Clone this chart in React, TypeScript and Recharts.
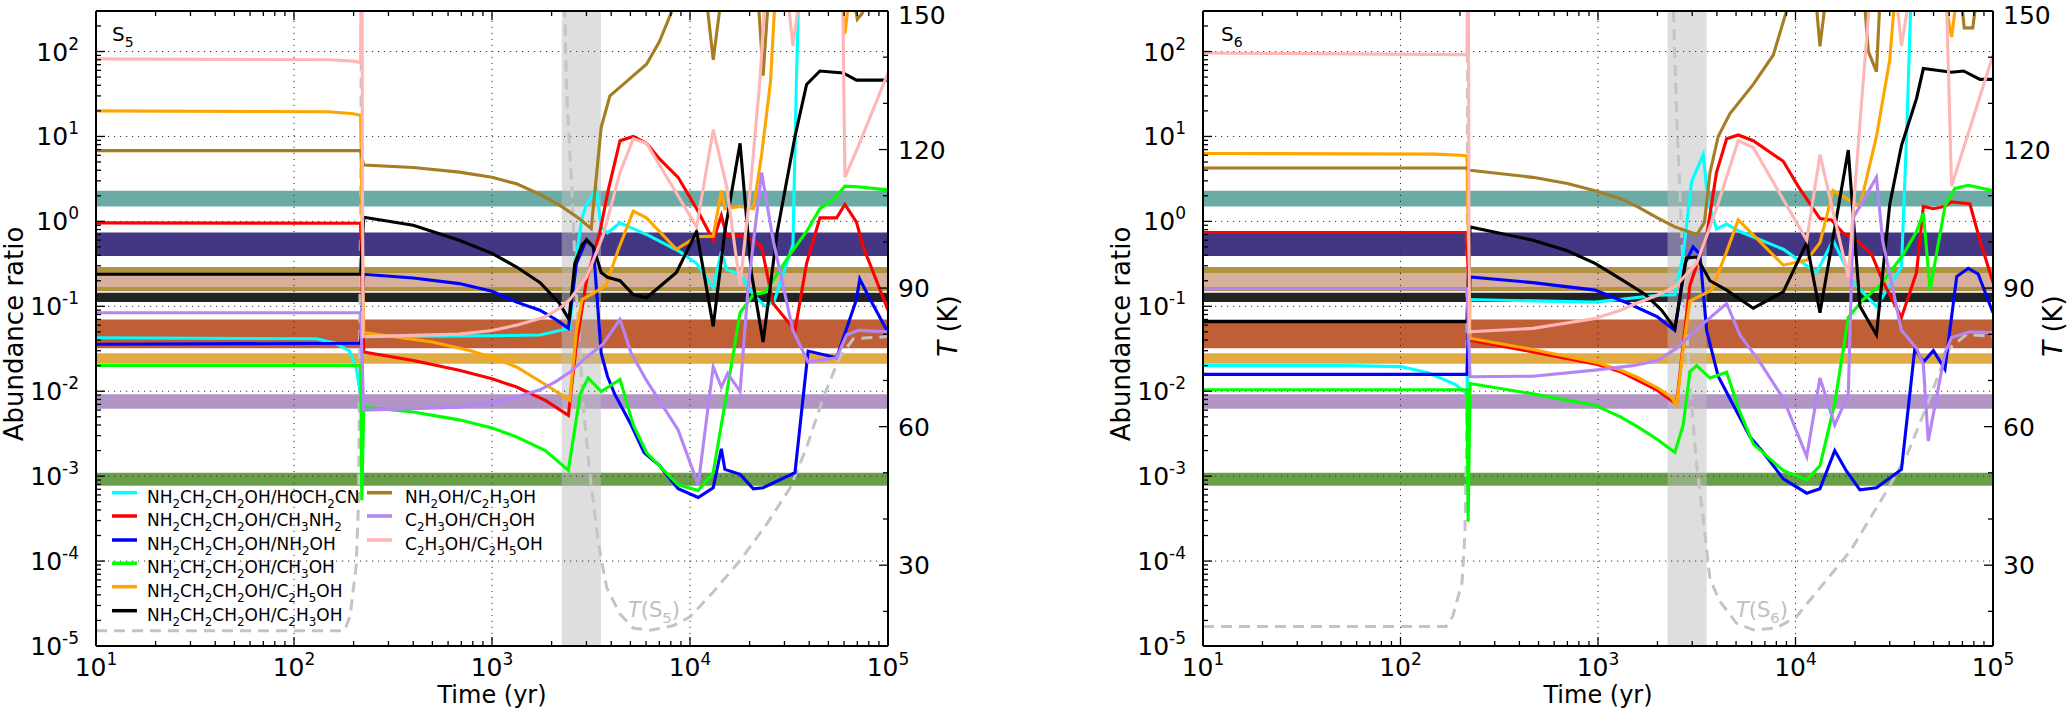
import React from "react";
import { LineChart, Line, XAxis, YAxis, ReferenceArea, ReferenceLine } from "recharts";

type Pt = [number, number];

const FONT = "DejaVu Sans";

// tick values
const tMajor = [30, 60, 90, 120, 150];
const tMinor = [20, 40, 50, 70, 80, 100, 110, 130, 140];
const xGrid = [100, 1000, 10000];
const yGrid = [1e-4, 1e-3, 1e-2, 1e-1, 1, 10, 100];

// observed ranges (horizontal bands)
const bandLo = [1.5, 0.39, 0.15, 0.169, 0.112, 0.032, 0.021, 0.0062, 0.00077];
const bandHi = [2.3, 0.74, 0.29, 0.247, 0.144, 0.07, 0.028, 0.0092, 0.0011];
const bandColor = ["#6aaba5", "#433683", "#b0923f", "#d6b09b", "#232323", "#c05e36", "#e1aa43", "#b095c5", "#6a9f4a"];

// grey heating window (yr)
const warmWindow = [2250, 3550];

const seriesKeys = ["cyan", "red", "blue", "green", "orange", "black", "olive", "lavender", "pink"];
const seriesColor = ["#00ffff", "#ff0000", "#0000ff", "#00ff00", "#ffa500", "#000000", "#a57d23", "#b585f5", "#ffb6b6"];
const seriesLabel = [
  "NH2CH2CH2OH/HOCH2CN",
  "NH2CH2CH2OH/CH3NH2",
  "NH2CH2CH2OH/NH2OH",
  "NH2CH2CH2OH/CH3OH",
  "NH2CH2CH2OH/C2H5OH",
  "NH2CH2CH2OH/C2H3OH",
  "NH2OH/C2H3OH",
  "C2H3OH/CH3OH",
  "C2H3OH/C2H5OH",
];

// ---- S5 ----
const s5Cyan: Pt[] = [[10, 0.0426], [130, 0.0415], [160, 0.037], [190, 0.03], [205, 0.02], [217, 0.0093], [225, 0.044], [1000, 0.045], [1746, 0.046], [2470, 0.055], [2670, 0.41], [2850, 1.1], [3000, 1.58], [3360, 2.4], [3560, 0.86], [3830, 0.73], [4430, 0.96], [6200, 0.68], [8880, 0.44], [10800, 0.32], [13100, 0.166], [14400, 0.44], [15300, 0.27], [17900, 0.24], [20900, 0.137], [24000, 0.1], [26600, 0.115], [33100, 0.53], [34500, 49], [36000, 2000], [100000, 2000]];
const s5Red: Pt[] = [[10, 0.96], [217, 0.95], [225, 0.029], [400, 0.023], [683, 0.0177], [1000, 0.014], [1330, 0.0112], [1860, 0.0078], [2430, 0.0052], [2670, 0.036], [3000, 0.2], [3510, 0.76], [3860, 2.3], [4430, 8.9], [5170, 10], [6030, 8.3], [7040, 5.4], [8710, 3.3], [10800, 1.41], [13100, 0.6], [14400, 1.17], [15300, 0.68], [17900, 0.68], [20900, 0.6], [23000, 0.5], [26300, 0.108], [33900, 0.052], [38800, 0.32], [45300, 1.1], [55000, 1.1], [60600, 1.58], [69300, 0.98], [75000, 0.5], [100000, 0.09]];
const s5Blue: Pt[] = [[10, 0.0357], [217, 0.0367], [225, 0.238], [400, 0.215], [683, 0.185], [1000, 0.15], [1330, 0.112], [1746, 0.09], [2100, 0.07], [2430, 0.055], [2670, 0.32], [3000, 0.61], [3250, 0.5], [3560, 0.028], [3830, 0.015], [4160, 0.0093], [5050, 0.004], [5860, 0.0019], [7040, 0.00132], [8710, 0.00071], [11000, 0.00056], [13100, 0.00073], [14400, 0.0021], [15000, 0.0012], [17900, 0.00105], [20900, 0.00071], [23400, 0.00073], [33900, 0.0011], [39500, 0.0297], [55000, 0.0248], [69300, 0.12], [72000, 0.21], [79000, 0.137], [100000, 0.049]];
const s5Green: Pt[] = [[10, 0.0201], [217, 0.0201], [220, 0.00052], [225, 0.0065], [400, 0.0057], [683, 0.0046], [1000, 0.0037], [1330, 0.0029], [1860, 0.002], [2430, 0.00117], [2790, 0.0093], [3060, 0.0143], [3560, 0.0099], [4430, 0.0138], [5170, 0.004], [6030, 0.0019], [8710, 0.00079], [11000, 0.00068], [13100, 0.0011], [15300, 0.0093], [17900, 0.084], [20900, 0.137], [24000, 0.146], [32000, 0.41], [38800, 0.76], [45300, 1.41], [52800, 1.8], [60600, 2.6], [71000, 2.55], [100000, 2.35]];
const s5Orange: Pt[] = [[10, 20], [150, 19.5], [200, 18.5], [217, 17.7], [225, 0.049], [500, 0.038], [780, 0.03], [1000, 0.025], [1330, 0.0193], [1860, 0.012], [2470, 0.0078], [2670, 0.052], [2850, 0.12], [3300, 0.146], [3760, 0.176], [4350, 0.47], [5170, 1.32], [6030, 1.1], [8540, 0.47], [10800, 0.66], [13100, 0.67], [14400, 2.3], [15000, 1.41], [17900, 1.5], [20900, 1.41], [23000, 6.1], [25500, 44], [27000, 500], [58000, 500], [60600, 160], [64000, 500], [100000, 500]];
const s5Black: Pt[] = [[10, 0.238], [217, 0.238], [225, 1.12], [400, 0.9], [683, 0.6], [1000, 0.42], [1330, 0.29], [1750, 0.19], [2180, 0.11], [2450, 0.07], [2620, 0.32], [2850, 0.53], [3000, 0.6], [3250, 0.5], [3560, 0.25], [3830, 0.22], [4430, 0.2], [5170, 0.137], [6030, 0.126], [8540, 0.25], [10800, 0.76], [13100, 0.058], [15000, 0.76], [17900, 8.3], [20400, 0.25], [23400, 0.038], [27600, 0.76], [33900, 10], [38800, 41], [45300, 59], [59400, 56], [69300, 46], [100000, 46]];
const s5Olive: Pt[] = [[10, 6.8], [217, 6.8], [225, 4.6], [400, 4.3], [684, 3.8], [1000, 3.3], [1330, 2.77], [1746, 2.08], [2275, 1.47], [2800, 1.05], [3170, 0.82], [3560, 12.8], [3940, 30], [4600, 41], [6030, 71], [7000, 130], [8200, 320], [9000, 600], [12000, 500], [13100, 80], [14500, 500], [22000, 500], [23400, 52], [25000, 500], [66000, 500], [70000, 240], [74000, 280], [78000, 500], [100000, 500]];
const s5Lavender: Pt[] = [[10, 0.084], [217, 0.084], [225, 0.006], [683, 0.0065], [1000, 0.0074], [1330, 0.0085], [1746, 0.0104], [2100, 0.013], [2470, 0.0167], [3000, 0.025], [3640, 0.036], [4430, 0.07], [5050, 0.028], [6030, 0.0134], [8710, 0.0035], [11000, 0.00079], [13100, 0.0194], [14400, 0.0112], [15500, 0.0162], [17900, 0.0099], [19700, 0.176], [23000, 3.75], [26300, 0.6], [33100, 0.052], [39500, 0.022], [55000, 0.0248], [61800, 0.046], [71000, 0.052], [100000, 0.05]];
const s5Pink: Pt[] = [[10, 82], [150, 80], [200, 77], [217, 74], [220, 5000], [223, 0.044], [683, 0.047], [1000, 0.052], [1330, 0.06], [1860, 0.075], [2200, 0.095], [2470, 0.12], [3000, 0.22], [3640, 0.68], [4430, 3.75], [5170, 9.4], [6030, 8.3], [10800, 0.86], [13100, 12], [15300, 2.6], [17900, 0.176], [20000, 2.0], [22600, 49], [24000, 500], [31000, 500], [33100, 116], [36000, 500], [59000, 500], [60600, 3.3], [71000, 7.8], [100000, 56]];
const s5Temp: Pt[] = [[10, 15.8], [180, 15.8], [192, 19], [206, 29.8], [212, 44], [218, 120], [222, 300], [2200, 300], [2330, 150], [2380, 132.8], [2520, 113], [2670, 88.8], [2890, 64.4], [3120, 49.7], [3440, 35], [3790, 25.2], [4430, 19.4], [5160, 16.4], [6300, 15.9], [8220, 16.9], [10000, 18.8], [13100, 24.2], [17900, 31], [24400, 38.9], [32000, 46.7], [38800, 55.5], [47100, 66.3], [57100, 75.1], [66800, 79], [100000, 79.5]];

// ---- S6 ----
const s6Cyan: Pt[] = [[10, 0.02], [54, 0.02], [100, 0.0195], [138, 0.0165], [190, 0.012], [217, 0.0093], [225, 0.12], [966, 0.112], [2000, 0.135], [2450, 0.137], [2700, 0.41], [2980, 2.94], [3410, 6.1], [3600, 1.8], [3980, 0.81], [4480, 0.93], [5230, 0.76], [8670, 0.47], [12800, 0.25], [15500, 0.6], [19600, 0.19], [25700, 0.1], [34400, 0.29], [36500, 10], [38500, 500], [100000, 500]];
const s6Red: Pt[] = [[10, 0.74], [217, 0.74], [225, 0.04], [468, 0.029], [966, 0.021], [1300, 0.017], [1590, 0.0134], [2000, 0.0102], [2350, 0.0078], [2500, 0.0072], [2700, 0.036], [2920, 0.176], [3550, 0.68], [3980, 3.75], [4480, 9.4], [5130, 10.4], [6110, 8.9], [8670, 5.1], [10300, 2.6], [13300, 1.08], [15200, 1.04], [17500, 0.72], [20400, 0.6], [24300, 0.41], [27600, 0.2], [34400, 0.074], [41000, 0.25], [44400, 1.5], [49900, 1.41], [57100, 1.5], [61700, 1.7], [76400, 1.6], [85900, 0.6], [100000, 0.19]];
const s6Blue: Pt[] = [[10, 0.0158], [217, 0.0158], [225, 0.221], [468, 0.19], [966, 0.155], [1400, 0.11], [2000, 0.075], [2450, 0.052], [2760, 0.32], [3030, 0.5], [3280, 0.41], [3550, 0.052], [3690, 0.036], [4060, 0.015], [4650, 0.0082], [5890, 0.0029], [6870, 0.0019], [8670, 0.00093], [11400, 0.00063], [13300, 0.00071], [15800, 0.002], [18100, 0.00115], [21200, 0.00069], [25700, 0.00073], [34400, 0.0012], [40200, 0.032], [44400, 0.022], [49900, 0.03], [57100, 0.0182], [65500, 0.224], [75000, 0.28], [84100, 0.24], [100000, 0.084]];
const s6Green: Pt[] = [[10, 0.0104], [217, 0.0104], [220, 0.00029], [225, 0.0123], [468, 0.0093], [966, 0.0068], [1300, 0.005], [1590, 0.0038], [2000, 0.0027], [2450, 0.0019], [2700, 0.004], [2920, 0.017], [3160, 0.02], [3690, 0.0143], [4480, 0.0167], [5230, 0.0057], [6110, 0.0024], [8670, 0.00116], [11400, 0.00091], [13300, 0.00132], [15800, 0.0072], [18500, 0.074], [22000, 0.12], [26800, 0.176], [35200, 0.41], [41000, 0.76], [44400, 1.25], [48000, 0.155], [57100, 1.5], [64100, 2.44], [75000, 2.66], [100000, 2.3]];
const s6Orange: Pt[] = [[10, 6.3], [150, 6.2], [200, 6.0], [217, 5.9], [225, 0.042], [468, 0.031], [966, 0.022], [1300, 0.0178], [1590, 0.0145], [2000, 0.011], [2350, 0.0085], [2500, 0.0068], [2700, 0.032], [2920, 0.115], [3760, 0.155], [4480, 0.44], [5130, 1.04], [8670, 0.305], [11400, 0.35], [13300, 0.56], [15500, 2.3], [21200, 1.5], [25700, 10], [30000, 80], [32000, 500], [56000, 500], [61700, 148], [66000, 500], [100000, 500]];
const s6Black: Pt[] = [[10, 0.066], [217, 0.066], [225, 0.86], [468, 0.6], [700, 0.45], [966, 0.32], [1300, 0.21], [1720, 0.14], [2100, 0.09], [2450, 0.055], [2800, 0.37], [3160, 0.38], [3690, 0.2], [4480, 0.155], [6110, 0.095], [8670, 0.148], [11400, 0.56], [13300, 0.084], [18500, 6.9], [21200, 0.1], [25700, 0.046], [30000, 1.58], [34400, 7.8], [41000, 28], [44400, 63], [61700, 57], [71000, 59], [85900, 47], [100000, 47]];
const s6Olive: Pt[] = [[10, 4.25], [217, 4.25], [225, 4.0], [468, 3.3], [700, 2.8], [966, 2.3], [1300, 1.85], [1590, 1.48], [2000, 1.1], [2450, 0.86], [3170, 0.7], [3460, 0.98], [3690, 3.75], [4060, 10], [4650, 18.5], [6110, 41], [7720, 91], [9000, 300], [9800, 600], [12500, 600], [13300, 115], [14500, 600], [22000, 600], [23400, 100], [25700, 58], [27000, 600], [68000, 600], [71500, 190], [79000, 190], [84000, 600], [100000, 600]];
const s6Lavender: Pt[] = [[10, 0.161], [217, 0.161], [225, 0.0148], [468, 0.015], [966, 0.0177], [1500, 0.02], [2000, 0.023], [2500, 0.032], [3280, 0.058], [4480, 0.108], [5230, 0.046], [6600, 0.022], [8670, 0.0082], [11400, 0.0017], [13300, 0.0143], [15800, 0.004], [18500, 0.0093], [19600, 1.1], [25700, 3.3], [27600, 0.6], [34400, 0.052], [41000, 0.032], [44400, 0.0206], [47000, 0.0026], [57100, 0.028], [61700, 0.043], [76400, 0.05], [100000, 0.049]];
const s6Pink: Pt[] = [[10, 96], [217, 92], [220, 5000], [223, 0.05], [468, 0.055], [966, 0.072], [1300, 0.09], [1590, 0.11], [2000, 0.135], [2450, 0.17], [3160, 0.32], [3980, 1.41], [5130, 8.9], [6110, 7.4], [11400, 0.6], [13300, 6.1], [18500, 0.22], [21200, 14.4], [23500, 300], [25700, 600], [32000, 600], [34400, 116], [38000, 500], [58000, 500], [61700, 2.6], [100000, 91]];
const s6Temp: Pt[] = [[10, 16.7], [170, 16.7], [184, 19], [205, 26.3], [212, 37], [217, 62], [222, 300], [2300, 300], [2410, 150], [2500, 128], [2700, 93.7], [2920, 69], [3160, 51.6], [3410, 40], [3690, 27], [4120, 22.3], [5030, 17.4], [6110, 16], [8010, 16.4], [10100, 18.8], [12800, 24.2], [18900, 33], [27800, 44.8], [36500, 53.6], [46100, 64.4], [53800, 72], [60500, 77], [73500, 80], [100000, 79.5]];

const s5Series = [s5Cyan, s5Red, s5Blue, s5Green, s5Orange, s5Black, s5Olive, s5Lavender, s5Pink];
const s6Series = [s6Cyan, s6Red, s6Blue, s6Green, s6Orange, s6Black, s6Olive, s6Lavender, s6Pink];

const toPts = (a: Pt[]) => a.map(([t, v]) => ({ t, v }));

// minor ticks for the log axes
const xTicks: number[] = [];
for (let k = 1; k <= 4; k++) for (let m = 1; m <= 9; m++) xTicks.push(m * Math.pow(10, k));
xTicks.push(100000);
const yTicks: number[] = [];
for (let k = -5; k <= 2; k++) for (let m = 1; m <= 9; m++) {
  const v = m * Math.pow(10, k);
  if (v <= 300) yTicks.push(v);
}
const tTicks = [...tMajor, ...tMinor].sort((a, b) => a - b);

const isDecade = (v: number) => Math.abs(Math.log10(v) - Math.round(Math.log10(v))) < 1e-6;

// chemistry-style subscripts
function Formula({ s, size }: { s: string; size: number }) {
  const parts = s.match(/\d+|[^\d]+/g) || [];
  const off = size * 0.3;
  let down = false;
  return (
    <>
      {parts.map((p, i) => {
        const num = /^\d+$/.test(p);
        let dy = 0;
        if (num && !down) { dy = off; down = true; }
        else if (!num && down) { dy = -off; down = false; }
        return (
          <tspan key={i} dy={dy} fontSize={num ? size * 0.7 : size}>{p}</tspan>
        );
      })}
    </>
  );
}

const XTickB = (p: any) => {
  const { x, y, payload } = p;
  const major = isDecade(payload.value);
  return (
    <g>
      <line x1={x} x2={x} y1={y} y2={y - (major ? 9 : 5)} stroke="#000" strokeWidth={1.3} />
      {major && (
        <text x={x} y={y + 30} textAnchor="middle" fontSize={25} fontFamily={FONT} fill="#000">
          10<tspan fontSize={17} dy={-11}>{Math.round(Math.log10(payload.value))}</tspan>
        </text>
      )}
    </g>
  );
};

const XTickT = (p: any) => {
  const { x, y, payload } = p;
  const major = isDecade(payload.value);
  return <line x1={x} x2={x} y1={y} y2={y + (major ? 9 : 5)} stroke="#000" strokeWidth={1.3} />;
};

const YTickL = (p: any) => {
  const { x, y, payload } = p;
  const major = isDecade(payload.value);
  return (
    <g>
      <line x1={x} x2={x + (major ? 9 : 5)} y1={y} y2={y} stroke="#000" strokeWidth={1.3} />
      {major && (
        <text x={x - 17} y={y + 9} textAnchor="end" fontSize={25} fontFamily={FONT} fill="#000">
          10<tspan fontSize={17} dy={-11}>{Math.round(Math.log10(payload.value))}</tspan>
        </text>
      )}
    </g>
  );
};

const YTickR = (p: any) => {
  const { x, y, payload } = p;
  const major = tMajor.includes(payload.value);
  return (
    <g>
      <line x1={x} x2={x - (major ? 9 : 5)} y1={y} y2={y} stroke="#000" strokeWidth={1.3} />
      {major && (
        <text x={x + 10} y={Math.max(y + 9, 24)} textAnchor="start" fontSize={25} fontFamily={FONT} fill="#000">
          {payload.value}
        </text>
      )}
    </g>
  );
};

const axisStroke = { stroke: "#000", strokeWidth: 2 };

function Panel({ left, width, leftW, rightW, series, temp }: {
  left: number; width: number; leftW: number; rightW: number; series: Pt[][]; temp: Pt[];
}) {
  return (
    <div style={{ position: "absolute", left, top: 0 }}>
      <LineChart width={width} height={709} margin={{ top: 10, right: 0, bottom: 0, left: 0 }}>
        <XAxis xAxisId="b" dataKey="t" type="number" scale="log" domain={[10, 100000]} allowDataOverflow
          ticks={xTicks} interval={0} tick={<XTickB />} tickLine={false} tickSize={0} tickMargin={0}
          height={63} axisLine={axisStroke} />
        <XAxis xAxisId="t" orientation="top" dataKey="t" type="number" scale="log" domain={[10, 100000]} allowDataOverflow
          ticks={xTicks} interval={0} tick={<XTickT />} tickLine={false} tickSize={0} tickMargin={0}
          height={1} axisLine={axisStroke} />
        <YAxis yAxisId="ab" type="number" scale="log" domain={[1e-5, 300]} allowDataOverflow
          ticks={yTicks} interval={0} tick={<YTickL />} tickLine={false} tickSize={0} tickMargin={0}
          width={leftW} axisLine={axisStroke} />
        <YAxis yAxisId="T" orientation="right" type="number" domain={[12.5, 150]} allowDataOverflow
          ticks={tTicks} interval={0} tick={<YTickR />} tickLine={false} tickSize={0} tickMargin={0}
          width={rightW} axisLine={axisStroke} />

        {bandLo.map((lo, i) => (
          <ReferenceArea key={"b" + i} xAxisId="b" yAxisId="ab" y1={lo} y2={bandHi[i]}
            fill={bandColor[i]} fillOpacity={1} stroke="none" />
        ))}
        <ReferenceArea xAxisId="b" yAxisId="ab" x1={warmWindow[0]} x2={warmWindow[1]}
          fill="#bdbdbd" fillOpacity={0.5} stroke="none" />
        {xGrid.map((g) => (
          <ReferenceLine key={"x" + g} xAxisId="b" yAxisId="ab" x={g} stroke="#333" strokeWidth={1} strokeDasharray="1.2 4.8" />
        ))}
        {yGrid.map((g) => (
          <ReferenceLine key={"y" + g} xAxisId="b" yAxisId="ab" y={g} stroke="#333" strokeWidth={1} strokeDasharray="1.2 4.8" />
        ))}

        <Line xAxisId="b" yAxisId="T" data={toPts(temp)} dataKey="v" type="linear" dot={false}
          stroke="#c4c4c4" strokeWidth={3} strokeDasharray="11 7" isAnimationActive={false} />
        {series.map((s, i) => (
          <Line key={seriesKeys[i]} xAxisId="b" yAxisId="ab" data={toPts(s)} dataKey="v" type="linear"
            dot={false} stroke={seriesColor[i]} strokeWidth={3.1} isAnimationActive={false} />
        ))}
      </LineChart>
    </div>
  );
}

const legendRows = [492.7, 516, 540, 563.3, 586.7, 610.7];

export default function App() {
  return (
    <div style={{ position: "absolute", left: 0, top: 0, width: 2070, height: 709, background: "#fff" }}>
      <Panel left={0} width={1010} leftW={96} rightW={122} series={s5Series} temp={s5Temp} />
      <Panel left={1130} width={940} leftW={73} rightW={77} series={s6Series} temp={s6Temp} />
      <svg width={2070} height={709} style={{ position: "absolute", left: 0, top: 0, pointerEvents: "none" }}
        fontFamily={FONT}>
        {/* panel tags */}
        <text x={112} y={41} fontSize={20}><Formula s="S5" size={20} /></text>
        <text x={1221} y={41} fontSize={20}><Formula s="S6" size={20} /></text>

        {/* temperature labels */}
        <text x={628} y={617} fontSize={21} fill="#c0c0c0">
          <tspan fontStyle="italic">T</tspan><Formula s="(S5)" size={21} />
        </text>
        <text x={1736} y={617} fontSize={21} fill="#c0c0c0">
          <tspan fontStyle="italic">T</tspan><Formula s="(S6)" size={21} />
        </text>

        {/* axis titles */}
        <text x={492} y={703} fontSize={24} textAnchor="middle">Time (yr)</text>
        <text x={1598} y={703} fontSize={24} textAnchor="middle">Time (yr)</text>
        <text transform="translate(23,334) rotate(-90)" fontSize={26} textAnchor="middle">Abundance ratio</text>
        <text transform="translate(1130,334) rotate(-90)" fontSize={26} textAnchor="middle">Abundance ratio</text>
        <text transform="translate(957,326) rotate(-90)" fontSize={26} textAnchor="middle">
          <tspan fontStyle="italic">T</tspan> (K)
        </text>
        <text transform="translate(2062,326) rotate(-90)" fontSize={26} textAnchor="middle">
          <tspan fontStyle="italic">T</tspan> (K)
        </text>

        {/* legend */}
        {seriesLabel.map((lab, i) => {
          const col = i < 6 ? 0 : 1;
          const row = i < 6 ? i : i - 6;
          const y = legendRows[row];
          const x0 = col === 0 ? 112 : 367;
          const tx = col === 0 ? 147 : 405;
          return (
            <g key={lab}>
              <line x1={x0} x2={x0 + 25} y1={y} y2={y} stroke={seriesColor[i]} strokeWidth={3.5} />
              <text x={tx} y={y + 10} fontSize={17} fill="#000"><Formula s={lab} size={17} /></text>
            </g>
          );
        })}
      </svg>
    </div>
  );
}
